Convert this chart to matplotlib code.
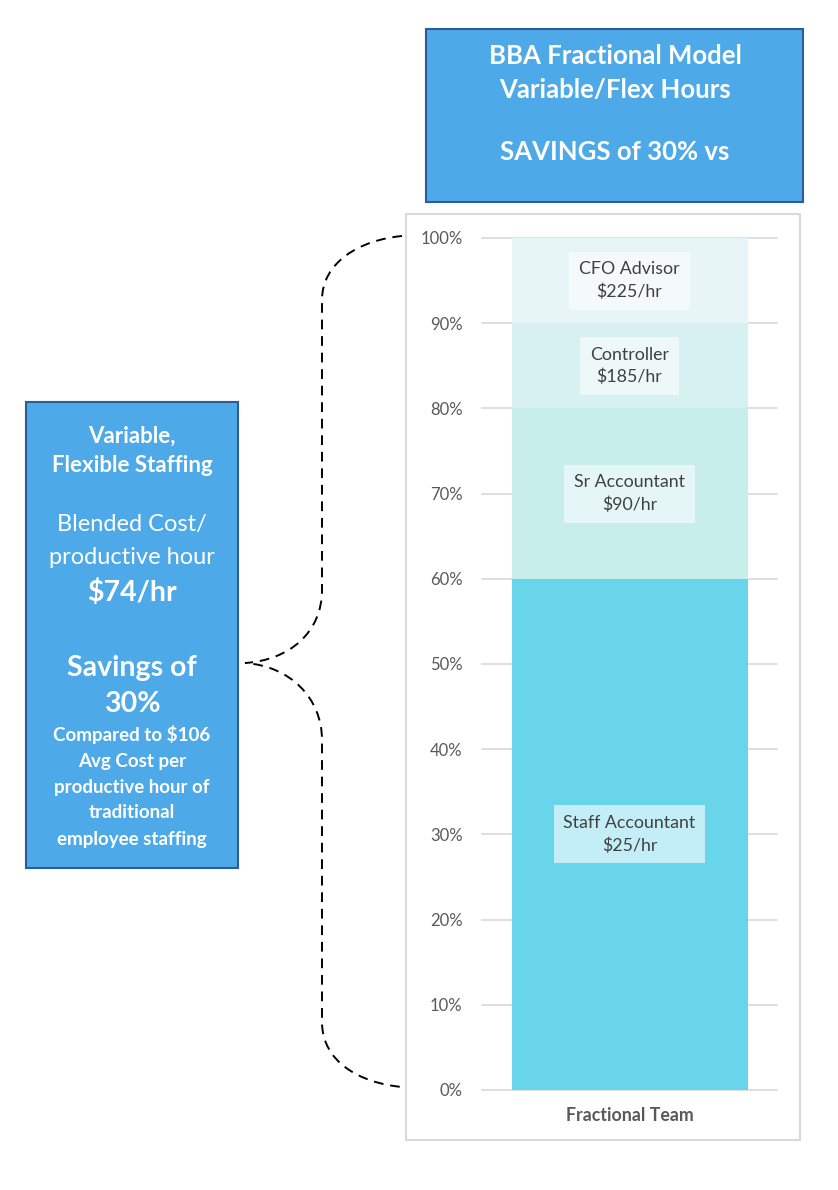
import matplotlib
matplotlib.use("Agg")
import matplotlib.pyplot as plt
from matplotlib.patches import Rectangle, PathPatch
from matplotlib.path import Path

plt.rcParams['font.family'] = ['Lato', 'DejaVu Sans']

# data
team = ['Fractional Team']
roles = ['Staff Accountant', 'Sr Accountant', 'Controller', 'CFO Advisor']
rates = ['$25/hr', '$90/hr', '$185/hr', '$225/hr']
shares = [0.60, 0.20, 0.10, 0.10]
yticks = [0.0, 0.1, 0.2, 0.3, 0.4, 0.5, 0.6, 0.7, 0.8, 0.9, 1.0]

seg_colors = ['#68D5EA', '#C8EEEC', '#D7F0F2', '#E8F5F6']
box_colors = ['#C4EEF7', '#E5F6F6', '#EEF8F9', '#F4FAFB']

BLUE = '#4EA9E8'
BLUE_EDGE = '#2F5C99'
W, H = 838, 1190

fig = plt.figure(figsize=(W / 100, H / 100), dpi=100)

# overlay in pixel coordinates for boxes and brace
ov = fig.add_axes([0, 0, 1, 1])
ov.set_xlim(0, W)
ov.set_ylim(H, 0)
ov.axis('off')

# chart frame
ov.add_patch(Rectangle((406, 214), 394, 926, fc='none', ec='#D9D9D9', lw=1.5))

# top title box
ov.add_patch(Rectangle((426, 29), 377, 173, fc=BLUE, ec=BLUE_EDGE, lw=1.5))
top_lines = [('BBA Fractional Model', 56), ('Variable/Flex Hours', 90),
             ('SAVINGS of 30% vs', 152)]
for txt, y in top_lines:
    ov.text(615, y, txt, ha='center', va='center', color='white',
            fontsize=18.5, fontweight='bold')

# left info box
ov.add_patch(Rectangle((26, 402), 212, 466, fc=BLUE, ec=BLUE_EDGE, lw=1.5))
left_lines = [
    ('Variable,', 436, 16, 'bold'),
    ('Flexible Staffing', 466, 16, 'bold'),
    ('Blended Cost/', 525, 17, 'normal'),
    ('productive hour', 558, 17, 'normal'),
    ('$74/hr', 592, 20.5, 'bold'),
    ('Savings of', 668, 20.5, 'bold'),
    ('30%', 704, 20.5, 'bold'),
    ('Compared to $106', 734, 13.5, 'bold'),
    ('Avg Cost per', 761, 13.5, 'bold'),
    ('productive hour of', 787, 13.5, 'bold'),
    ('traditional', 813, 13.5, 'bold'),
    ('employee staffing', 840, 13.5, 'bold'),
]
for txt, y, fs, fw in left_lines:
    ov.text(132, y, txt, ha='center', va='center', color='white',
            fontsize=fs, fontweight=fw)

# dashed brace
verts = [(402, 236), (360, 240), (322, 262), (322, 300),
         (322, 590),
         (322, 632), (290, 660), (245, 663),
         (290, 666), (322, 698), (322, 740),
         (322, 1022),
         (322, 1062), (360, 1083), (402, 1087)]
codes = [Path.MOVETO, Path.CURVE4, Path.CURVE4, Path.CURVE4,
         Path.LINETO,
         Path.CURVE4, Path.CURVE4, Path.CURVE4,
         Path.CURVE4, Path.CURVE4, Path.CURVE4,
         Path.LINETO,
         Path.CURVE4, Path.CURVE4, Path.CURVE4]
ov.add_patch(PathPatch(Path(verts, codes), fc='none', ec='black', lw=1.4,
                       ls=(0, (5, 3.5))))

# stacked bar chart
ax = fig.add_axes([482 / W, 1 - 1090 / H, 295 / W, 852 / H])
ax.patch.set_alpha(0)
bottom = 0
for role, rate, share, c, bc in zip(roles, rates, shares, seg_colors, box_colors):
    ax.bar(team, share, bottom=bottom, width=0.8, color=c, zorder=2)
    ax.text(0, bottom + share / 2, f'{role}\n{rate}', ha='center', va='center',
            fontsize=12.8, color='#404040', zorder=3, linespacing=1.45,
            bbox=dict(boxstyle='square,pad=0.55', fc=bc, ec='none'))
    bottom += share

ax.set_xlim(-0.5, 0.5)
ax.set_ylim(0, 1)
ax.set_yticks(yticks)
ax.set_yticklabels([f'{int(round(v * 100))}%' for v in yticks])
for v in yticks:
    ax.axhline(v, color='#D9D9D9', lw=1.2, zorder=1, clip_on=False)
for s in ax.spines.values():
    s.set_visible(False)
ax.tick_params(axis='y', length=0, pad=14, labelsize=12, labelcolor='#595959')
ax.tick_params(axis='x', length=0, pad=12, labelsize=12.8, labelcolor='#595959')
for lab in ax.get_xticklabels():
    lab.set_fontweight('bold')

fig.savefig('out.png', dpi=100)
